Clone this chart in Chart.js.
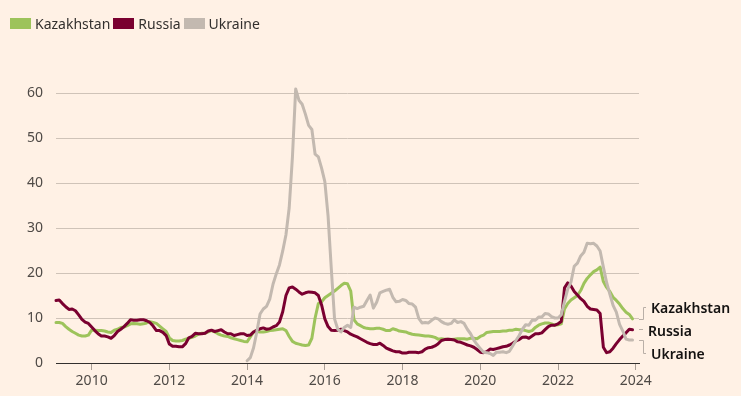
<!DOCTYPE html>
<html>
<head>
<meta charset="utf-8">
<script src="https://cdn.jsdelivr.net/npm/chart.js@4.4.1/dist/chart.umd.min.js"></script>
<style>
  html, body { margin: 0; padding: 0; background: #fff1e5; }
  #wrap { position: relative; width: 741px; height: 396px; }
  #legend { position: absolute; left: 10px; top: 14px; display: flex; font: 14px "Noto Sans", sans-serif; color: #33302e; }
  #legend .item { display: flex; align-items: center; margin-right: 3px; }
  #legend .swatch { width: 21px; height: 11px; margin-right: 4px; }
</style>
</head>
<body>
<div id="wrap">
  <div id="legend"></div>
  <canvas id="chart"></canvas>
</div>
<script>
// Annual inflation, % - monthly readings
const seriesNames = ['Kazakhstan', 'Russia', 'Ukraine'];
const seriesColors = ['#9dc35b', '#7a0030', '#c3b9b0'];

// Feb 2009 .. Dec 2023
const firstMonth = 2009 + 1 / 12;
const kazakhstan = [
    9.0, 9.0, 8.8, 8.1, 7.5, 7.0, 6.6, 6.2, 6.0, 6.0, 6.2,
    7.3, 7.3, 7.2, 7.2, 7.1, 6.9, 6.8, 7.3, 7.5, 7.9, 8.0, 8.3,
    8.7, 8.8, 8.7, 8.6, 8.7, 8.9, 9.2, 9.0, 8.8, 8.2, 7.6, 7.0,
    5.6, 5.0, 4.9, 4.9, 5.0, 5.3, 5.5, 5.7, 6.0, 6.4, 6.6, 6.6,
    6.9, 7.2, 6.9, 6.5, 6.2, 6.0, 5.9, 5.6, 5.4, 5.2, 5.0, 4.8,
    4.7, 5.8, 6.9, 7.0, 6.9, 6.9, 7.0, 7.2, 7.3, 7.4, 7.5, 7.6,
    7.2, 5.9, 4.8, 4.4, 4.2, 4.0, 3.9, 4.0, 5.5, 10.0, 13.2, 13.6,
    14.5, 15.0, 15.5, 16.0, 16.6, 17.2, 17.7, 17.6, 16.0, 9.6, 8.7, 8.3,
    7.9, 7.7, 7.6, 7.6, 7.7, 7.7, 7.5, 7.2, 7.2, 7.6, 7.4, 7.1,
    7.0, 6.9, 6.6, 6.4, 6.3, 6.2, 6.1, 6.0, 6.0, 5.9, 5.7, 5.3,
    5.4, 5.3, 5.3, 5.2, 5.3, 5.4, 5.4, 5.4, 5.3, 5.5, 5.5, 5.4,
    5.9, 6.2, 6.8, 6.9, 7.0, 7.0, 7.0, 7.1, 7.1, 7.3, 7.3, 7.5,
    7.4, 7.4, 7.2, 7.0, 7.2, 7.9, 8.4, 8.7, 8.9, 8.9, 8.7, 8.4,
    8.5, 8.7, 12.0, 13.2, 14.0, 14.5, 15.0, 16.1, 17.7, 18.8, 19.6, 20.3,
    20.7, 21.3, 18.1, 16.8, 15.9, 14.6, 13.9, 13.1, 12.1, 11.3, 10.8, 9.8
];
const russia = [
    13.9, 14.0, 13.2, 12.5, 11.9, 12.0, 11.6, 10.7, 9.7, 9.1, 8.8,
    8.0, 7.2, 6.5, 6.0, 6.0, 5.8, 5.5, 6.1, 7.0, 7.5, 8.1, 8.8,
    9.6, 9.5, 9.5, 9.6, 9.6, 9.4, 9.0, 8.2, 7.2, 7.2, 6.8, 6.1,
    4.2, 3.7, 3.7, 3.6, 3.6, 4.3, 5.6, 5.9, 6.6, 6.5, 6.5, 6.6,
    7.1, 7.3, 7.0, 7.2, 7.4, 6.9, 6.5, 6.5, 6.1, 6.3, 6.5, 6.5,
    6.1, 6.2, 6.9, 7.3, 7.6, 7.8, 7.5, 7.6, 8.0, 8.3, 9.1, 11.4,
    15.0, 16.7, 16.9, 16.4, 15.8, 15.3, 15.6, 15.8, 15.7, 15.6, 15.0, 12.9,
    9.8, 8.1, 7.3, 7.2, 7.3, 7.5, 7.2, 6.9, 6.4, 6.1, 5.8, 5.4,
    5.0, 4.6, 4.3, 4.1, 4.1, 4.4, 3.9, 3.3, 3.0, 2.7, 2.5, 2.5,
    2.2, 2.2, 2.4, 2.4, 2.4, 2.3, 2.5, 3.1, 3.4, 3.5, 3.8, 4.3,
    5.0, 5.2, 5.3, 5.2, 5.1, 4.7, 4.6, 4.3, 4.0, 3.8, 3.5, 3.0,
    2.4, 2.3, 2.5, 3.1, 3.0, 3.2, 3.4, 3.6, 3.7, 4.0, 4.4, 4.9,
    5.2, 5.7, 5.8, 5.5, 6.0, 6.5, 6.5, 6.7, 7.4, 8.1, 8.4, 8.4,
    8.7, 9.2, 16.7, 17.8, 17.1, 15.9, 15.1, 14.3, 13.7, 12.6, 12.0, 11.9,
    11.8, 11.0, 3.5, 2.3, 2.5, 3.3, 4.3, 5.2, 6.0, 6.7, 7.5, 7.4
];

// Jan 2014 .. Dec 2023
const ukraineFirstMonth = 2014;
const ukraine = [
    0.5, 1.2, 3.4, 6.9, 10.9, 12.0, 12.6, 14.2, 17.5, 19.8, 21.8, 24.9,
    28.5, 34.5, 45.8, 60.9, 58.4, 57.5, 55.3, 52.8, 51.9, 46.4, 45.8, 43.3,
    40.3, 32.7, 20.9, 9.8, 7.5, 6.9, 7.9, 8.4, 7.9, 12.4, 12.1, 12.4,
    12.6, 13.9, 15.1, 12.2, 13.5, 15.6, 15.9, 16.2, 16.4, 14.6, 13.6, 13.7,
    14.1, 13.9, 13.2, 13.1, 12.4, 9.9, 8.9, 9.0, 8.9, 9.5, 10.0, 9.8,
    9.2, 8.8, 8.6, 8.8, 9.6, 9.0, 9.2, 8.8, 7.5, 6.5, 5.1, 4.1,
    3.2, 2.4, 2.3, 2.1, 1.7, 2.4, 2.4, 2.5, 2.3, 2.6, 3.8, 5.0,
    6.1, 7.5, 8.5, 8.4, 9.5, 9.5, 10.2, 10.2, 11.0, 10.9, 10.3, 10.0,
    10.0, 10.7, 13.7, 16.4, 18.0, 21.5, 22.2, 23.8, 24.6, 26.6, 26.5, 26.6,
    26.0, 24.9, 21.3, 17.9, 15.3, 12.8, 11.3, 8.6, 7.1, 5.3, 5.1, 5.1
];

const yearTicks = [2010, 2012, 2014, 2016, 2018, 2020, 2022, 2024];
const valueTicks = [0, 10, 20, 30, 40, 50, 60];

const FONT = '"Noto Sans", sans-serif';

function toPoints(start, values) {
    return values.map((v, i) => ({ x: start + i / 12, y: v }));
}

// legend
const legendEl = document.getElementById('legend');
seriesNames.forEach((name, i) => {
    const item = document.createElement('div');
    item.className = 'item';
    item.innerHTML = `<span class="swatch" style="background:${seriesColors[i]}"></span><span>${name}</span>`;
    legendEl.appendChild(item);
});

// labels at the line ends, Russia's sits at its last value, the others stack around it
const endLabels = {
    id: 'endLabels',
    afterDatasetsDraw(chart) {
        const { ctx, chartArea, scales } = chart;
        const y = scales.y;
        const lasts = [kazakhstan, russia, ukraine].map((s) => y.getPixelForValue(s[s.length - 1]));
        const mid = lasts[1];
        const spots = [mid - 23, mid, mid + 23];
        const x0 = chartArea.right;
        ctx.save();
        ctx.strokeStyle = '#b9afa7';
        ctx.lineWidth = 1;
        spots.forEach((ly, i) => {
            const yl = Math.round(ly) + 0.5;
            ctx.beginPath();
            if (i === 1) {
                ctx.moveTo(x0, yl - 1);
                ctx.lineTo(x0 + 4, yl - 1);
            } else {
                const ye = Math.round(lasts[i]) + 0.5;
                ctx.moveTo(x0, ye);
                ctx.lineTo(x0 + 4.5, ye);
                ctx.lineTo(x0 + 4.5, yl);
                ctx.lineTo(x0 + 7, yl);
            }
            ctx.stroke();
        });
        ctx.fillStyle = '#141211';
        ctx.font = `600 14px ${FONT}`;
        ctx.textBaseline = 'alphabetic';
        seriesNames.forEach((name, i) => {
            ctx.fillText(name, x0 + (i === 1 ? 9 : 12), spots[i] + 6);
        });
        ctx.restore();
    }
};

const ctx = document.getElementById('chart').getContext('2d');
new Chart(ctx, {
    type: 'line',
    data: {
        datasets: [
            { label: seriesNames[0], data: toPoints(firstMonth, kazakhstan), borderColor: seriesColors[0], order: 2 },
            { label: seriesNames[1], data: toPoints(firstMonth, russia), borderColor: seriesColors[1], order: 1 },
            { label: seriesNames[2], data: toPoints(ukraineFirstMonth, ukraine), borderColor: seriesColors[2], order: 0 },
        ].map((ds) => ({
            ...ds,
            borderWidth: 3,
            pointRadius: 0,
            tension: 0,
            fill: false,
            clip: false,
            borderJoinStyle: 'round',
            borderCapStyle: 'round',
        })),
    },
    options: {
        responsive: true,
        maintainAspectRatio: false,
        animation: false,
        events: [],
        layout: { padding: { top: 93, right: 102, left: 0, bottom: 0 } },
        scales: {
            x: {
                type: 'linear',
                min: firstMonth,
                max: 2024 + 1 / 12,
                afterBuildTicks: (scale) => { scale.ticks = yearTicks.map((v) => ({ value: v })); },
                afterFit: (scale) => { scale.height = 33; },
                grid: { drawOnChartArea: false, drawTicks: true, tickLength: 7, color: '#a99e95' },
                border: { display: true, color: '#33302e', dash: [2, 2], width: 1 },
                ticks: {
                    color: '#4f4a46',
                    font: { family: FONT, size: 14 },
                    padding: 3,
                    maxRotation: 0,
                    autoSkip: false,
                    callback: (v) => String(v),
                },
            },
            y: {
                min: 0,
                max: 60,
                afterBuildTicks: (scale) => { scale.ticks = valueTicks.map((v) => ({ value: v })); },
                afterFit: (scale) => { scale.width = 56; },
                grid: {
                    drawTicks: false,
                    color: (c) => (c.tick && c.tick.value === 0 ? 'rgba(0,0,0,0)' : '#cfc3b8'),
                },
                border: { display: false },
                ticks: {
                    color: '#4f4a46',
                    font: { family: FONT, size: 14 },
                    padding: 13,
                },
            },
        },
        plugins: { legend: { display: false }, tooltip: { enabled: false } },
    },
    plugins: [endLabels],
});
</script>
</body>
</html>
